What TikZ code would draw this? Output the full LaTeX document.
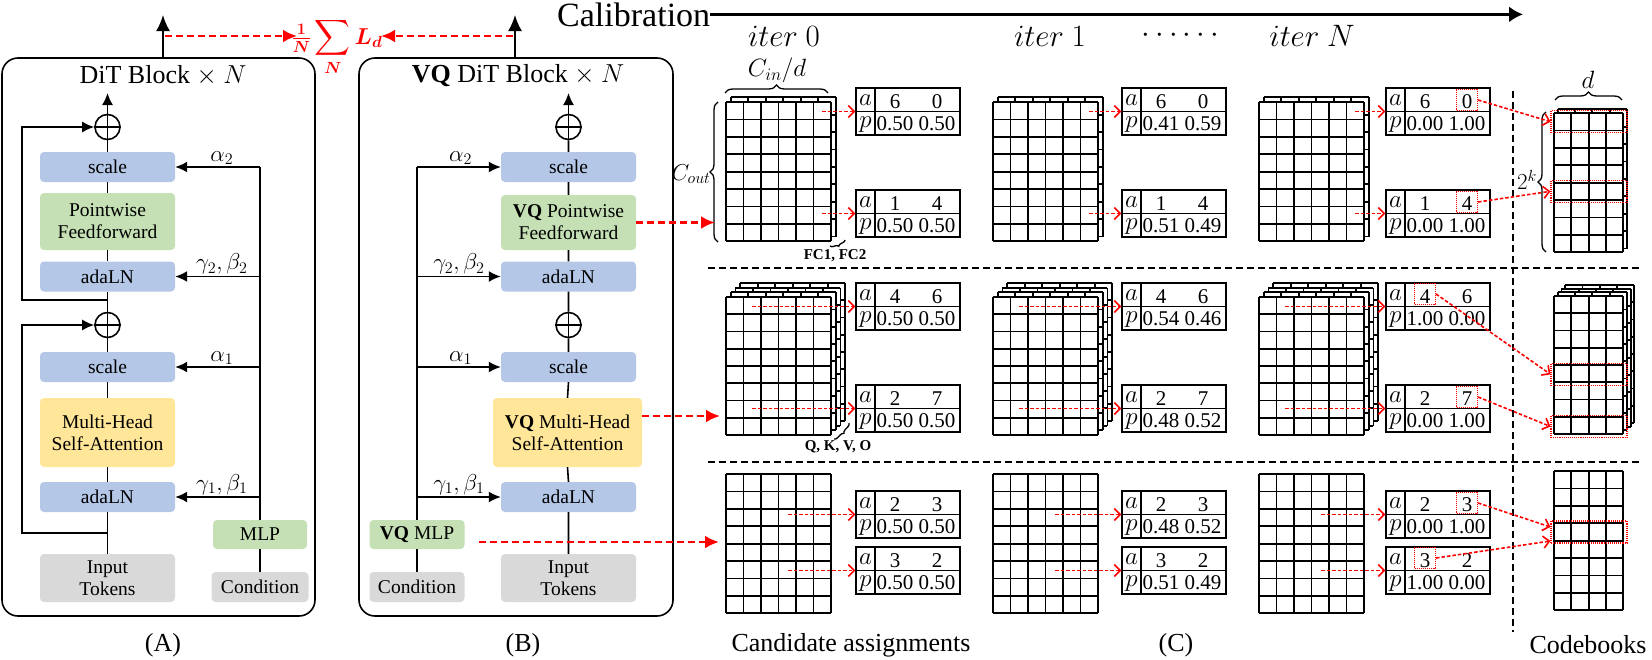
\documentclass[tikz,border=0pt]{standalone}
\usepackage{fix-cm}
\usepackage{amsmath}
\usepackage{fontspec}
\setmainfont{Liberation Serif}
\usetikzlibrary{arrows.meta,decorations.pathreplacing,calc}
\definecolor{cblue}{RGB}{180,199,231}
\definecolor{cgreen}{RGB}{197,224,180}
\definecolor{cyellow}{RGB}{255,230,153}
\definecolor{cgrey}{RGB}{217,217,217}
\definecolor{cred}{RGB}{255,0,0}
\newcommand{\myfs}[2]{\fontsize{#1}{#2}\selectfont}
\newcommand{\lossformula}{$\boldsymbol{\tfrac{1}{N}}\displaystyle\sum_{\boldsymbol{N}}\boldsymbol{L_d}$}
\newcommand{\cellgrid}[6]{%
  \fill[white] (#1,#2) rectangle ++(#3*#5,#4*#6);
  \foreach \ii in {0,...,#3}{\draw[gline] (#1+\ii*#5,#2) -- ++(0,#4*#6);}
  \foreach \jj in {0,...,#4}{\draw[gline] (#1,#2+\jj*#6) -- ++(#3*#5,0);}
}
\newcommand{\ptab}[7]{%
  \node[tbl] (#1) at (#2+52,#3+23.5) {};
  \draw[tline] (#2,#3+23.5) -- ++(104,0);
  \draw[tline] (#2+19,#3) -- ++(0,47);
  \node[tlab] at (#2+9.5,#3+17) {$a$};
  \node[tlab] at (#2+9.5,#3+39.5) {$p$};
  \node[tval] at (#2+39,#3+20) {#4};
  \node[tval] at (#2+81,#3+20) {#5};
  \node[tval] at (#2+39,#3+42.5) {#6};
  \node[tval] at (#2+81,#3+42.5) {#7};
}
\tikzset{
  gline/.style={line width=1.8pt},
  tline/.style={line width=1.2pt},
  tbl/.style={draw, line width=1.2pt, minimum width=104pt, minimum height=47pt, inner sep=0pt},
  tlab/.style={anchor=base, inner sep=0pt, font=\myfs{25}{27}},
  tval/.style={anchor=base, inner sep=0pt, font=\myfs{21}{23}},
  blk/.style={rounded corners=4pt, minimum width=135pt, minimum height=30pt, align=center, inner sep=1pt, font=\myfs{19.5}{22}},
  bbox/.style={blk, fill=cblue},
  gbox/.style={blk, fill=cgreen},
  ybox/.style={blk, fill=cyellow},
  kbox/.style={blk, fill=cgrey},
  frame/.style={draw, line width=1.6pt, rounded corners=16pt, inner sep=0pt},
  ln/.style={line width=1.6pt},
  arr/.style={line width=1.6pt, -{Latex[length=12pt,width=11pt]}},
  outarr/.style={line width=2pt, -{Latex[length=16pt,width=14pt]}},
  calarr/.style={line width=2.4pt, -{Latex[length=14pt,width=16pt]}},
  plusc/.style={circle, draw, line width=1.6pt, minimum size=25pt, inner sep=0pt},
  lbl/.style={font=\myfs{23}{25}, inner sep=1.5pt, above},
  losstxt/.style={anchor=base, text=cred, font=\myfs{23}{25}, inner sep=0pt},
  bigred/.style={cred, line width=2.7pt, dash pattern=on 7pt off 4pt, -{Latex[length=14pt,width=13pt]}},
  sred/.style={cred, line width=1.6pt, dash pattern=on 3.5pt off 2pt, -{Straight Barb[length=6pt,width=12pt]}},
  dbox/.style={draw=cred, line width=1.1pt, densely dotted, minimum width=21pt, minimum height=21pt, inner sep=0pt},
  rowbox/.style={draw=cred, line width=1.1pt, densely dotted, minimum width=76pt, minimum height=22pt, inner sep=0pt},
  sepline/.style={line width=2.8pt, dash pattern=on 7pt off 4pt},
  brc/.style={decorate, decoration={brace, amplitude=8pt}, line width=1.3pt},
  sbrc/.style={decorate, decoration={brace, amplitude=3.5pt}, line width=1.3pt},
  bigtxt/.style={font=\myfs{26}{28}, inner sep=0pt},
}
\begin{document}
\begin{tikzpicture}[x=1pt,y=-1pt]
\useasboundingbox (0,0) rectangle (1652,659);

% ---------------- Panel A ----------------
\node[frame, minimum width=313pt, minimum height=558pt] (frA) at (158.5,337) {};
\node[bigtxt] (ttA) at (163,76) {DiT Block $\times$ $N$};
\coordinate (outA) at (163,15);
\draw[outarr] (outA |- frA.north) -- (outA);

\node[bbox] (scA2) at (107.5,167) {scale};
\node[gbox, minimum height=57pt] (pfA) at (107.5,221.5) {Pointwise\\Feedforward};
\node[bbox] (adA2) at (107.5,276.5) {adaLN};
\node[plusc] (plA2) at (107.5,127) {};
\node[plusc] (plA1) at (107.5,325) {};
\node[bbox] (scA1) at (107.5,367) {scale};
\node[ybox, minimum height=69pt] (mhA) at (107.5,432.5) {Multi-Head\\Self-Attention};
\node[bbox] (adA1) at (107.5,497) {adaLN};
\node[kbox, minimum height=48pt] (inA) at (107.5,578) {Input\\Tokens};
\node[gbox, minimum width=94pt, minimum height=29pt] (mlA) at (260,534.5) {MLP};
\node[kbox, minimum width=97pt] (cdA) at (260,587) {Condition};

\draw[ln] (inA.north) -- (adA1.south) (adA1.north) -- (mhA.south) (mhA.north) -- (scA1.south) (scA1.north) -- (plA1.south) (plA1.north) -- (adA2.south) (adA2.north) -- (pfA.south) (pfA.north) -- (scA2.south) (scA2.north) -- (plA2.south);
\coordinate (topA) at (107.5,93);
\draw[arr] (plA2.north) -- (topA);
\draw[ln] (plA1.north) -- (plA1.south) (plA1.west) -- (plA1.east);
\draw[ln] (plA2.north) -- (plA2.south) (plA2.west) -- (plA2.east);
\coordinate (lA) at (22,0);
\coordinate (skA1) at (107.5,533);
\coordinate (skA2) at (107.5,300);
\draw[arr] (skA1) -- (skA1 -| lA) |- (plA1.west);
\draw[arr] (skA2) -- (skA2 -| lA) |- (plA2.west);
\draw[ln] (cdA.north) -- (mlA.south);
\draw[ln] (mlA.north) -- (mlA.north |- scA2.east);
\draw[arr] (mlA.north |- scA2.east) -- (scA2.east) node[lbl, pos=0.45] {$\alpha_2$};
\draw[arr] (mlA.north |- adA2.east) -- (adA2.east) node[lbl, pos=0.45] {$\gamma_2,\beta_2$};
\draw[arr] (mlA.north |- scA1.east) -- (scA1.east) node[lbl, pos=0.45] {$\alpha_1$};
\draw[arr] (mlA.north |- adA1.east) -- (adA1.east) node[lbl, pos=0.45] {$\gamma_1,\beta_1$};

% ---------------- Loss ----------------
\node[losstxt] (loss) at (337,44) {\lossformula};
\coordinate (ra) at (165,36);
\coordinate (lossL) at (297,36);
\coordinate (rb) at (513,36);
\coordinate (lossR) at (381,36);
\draw[bigred] (ra) -- (lossL);
\draw[bigred] (rb) -- (lossR);

% ---------------- Panel B ----------------
\node[frame, minimum width=314pt, minimum height=558pt] (frB) at (516,337) {};
\node[bigtxt] (ttB) at (518,76) {\textbf{VQ} DiT Block $\times$ $N$};
\coordinate (outB) at (515,15);
\draw[outarr] (outB |- frB.north) -- (outB);

\node[bbox] (scB2) at (568.5,167) {scale};
\node[gbox, minimum height=55pt] (pfB) at (568.5,222.5) {\textbf{VQ} Pointwise\\Feedforward};
\node[bbox] (adB2) at (568.5,276.5) {adaLN};
\node[plusc] (plB2) at (568.5,127) {};
\node[plusc] (plB1) at (568.5,325) {};
\node[bbox] (scB1) at (568.5,367) {scale};
\node[ybox, minimum width=149pt, minimum height=69pt] (mhB) at (567.5,432.5) {\textbf{VQ} Multi-Head\\Self-Attention};
\node[bbox] (adB1) at (568.5,497) {adaLN};
\node[kbox, minimum height=48pt] (inB) at (568.5,578) {Input\\Tokens};
\node[gbox, minimum width=95pt, minimum height=29pt] (mlB) at (417,534.5) {\textbf{VQ} MLP};
\node[kbox, minimum width=95pt] (cdB) at (417,587) {Condition};

\draw[ln] (inB.north) -- (adB1.south) (adB1.north) -- (mhB.south) (mhB.north) -- (scB1.south) (scB1.north) -- (plB1.south) (plB1.north) -- (adB2.south) (adB2.north) -- (pfB.south) (pfB.north) -- (scB2.south) (scB2.north) -- (plB2.south);
\coordinate (topB) at (568.5,93);
\draw[arr] (plB2.north) -- (topB);
\draw[ln] (plB1.north) -- (plB1.south) (plB1.west) -- (plB1.east);
\draw[ln] (plB2.north) -- (plB2.south) (plB2.west) -- (plB2.east);
\draw[ln] (cdB.north) -- (mlB.south);
\draw[ln] (mlB.north) -- (mlB.north |- scB2.west);
\draw[arr] (mlB.north |- scB2.west) -- (scB2.west) node[lbl, pos=0.52] {$\alpha_2$};
\draw[arr] (mlB.north |- adB2.west) -- (adB2.west) node[lbl, pos=0.5] {$\gamma_2,\beta_2$};
\draw[arr] (mlB.north |- scB1.west) -- (scB1.west) node[lbl, pos=0.52] {$\alpha_1$};
\draw[arr] (mlB.north |- adB1.west) -- (adB1.west) node[lbl, pos=0.5] {$\gamma_1,\beta_1$};

% ---------------- Calibration ----------------
\node[anchor=base west, inner sep=0pt, font=\myfs{34}{36}] (calib) at (557,26) {Calibration};
\coordinate (calX) at (1523,0);
\draw[calarr] (calib.east) -- (calib.east -| calX);
\node[font=\myfs{31}{33}] (it0) at (784,36) {$iter\ 0$};
\node[font=\myfs{31}{33}] (it1) at (1050,36) {$iter\ 1$};
\node[font=\myfs{31}{33}] (itd) at (1183,36) {$\cdots\cdots$};
\node[font=\myfs{31}{33}] (itN) at (1312,36) {$iter\ N$};

% ---------------- weight grids ----------------
\foreach \G in {726,993,1259}{
  \cellgrid{\G+4.7}{97.3}{6}{8}{17.5}{17.4}
  \cellgrid{\G}{102}{6}{8}{17.5}{17.4}
  \cellgrid{\G+14.1}{282.9}{6}{8}{17.5}{17.25}
  \cellgrid{\G+9.4}{287.6}{6}{8}{17.5}{17.25}
  \cellgrid{\G+4.7}{292.3}{6}{8}{17.5}{17.25}
  \cellgrid{\G}{297}{6}{8}{17.5}{17.25}
  \cellgrid{\G}{474}{6}{8}{17.5}{17.4}
}
% labels on iter 0 grids
\draw[brc] (725,93) -- (828,93);
\node[font=\myfs{25}{27}] (cin) at (777,70) {$C_{in}/d$};
\draw[brc] (718,242) -- (718,102);
\node[font=\myfs{23}{25}] (cout) at (691,174) {$C_{out}$};
\draw[sbrc] (845,240) -- (830,246);
\node[font=\bfseries\myfs{15}{16}] (fc) at (835,256) {FC1, FC2};
\draw[sbrc] (849,423) -- (834,439);
\node[font=\bfseries\myfs{15}{16}] (qkvo) at (838,447) {Q, K, V, O};

% ---------------- tables ----------------
\ptab{t01}{856}{88}{6}{0}{0.50}{0.50}
\ptab{t02}{856}{190}{1}{4}{0.50}{0.50}
\ptab{t03}{856}{283}{4}{6}{0.50}{0.50}
\ptab{t04}{856}{385}{2}{7}{0.50}{0.50}
\ptab{t05}{856}{491}{2}{3}{0.50}{0.50}
\ptab{t06}{856}{547}{3}{2}{0.50}{0.50}
\ptab{t11}{1122}{88}{6}{0}{0.41}{0.59}
\ptab{t12}{1122}{190}{1}{4}{0.51}{0.49}
\ptab{t13}{1122}{283}{4}{6}{0.54}{0.46}
\ptab{t14}{1122}{385}{2}{7}{0.48}{0.52}
\ptab{t15}{1122}{491}{2}{3}{0.48}{0.52}
\ptab{t16}{1122}{547}{3}{2}{0.51}{0.49}
\ptab{t21}{1386}{88}{6}{0}{0.00}{1.00}
\ptab{t22}{1386}{190}{1}{4}{0.00}{1.00}
\ptab{t23}{1386}{283}{4}{6}{1.00}{0.00}
\ptab{t24}{1386}{385}{2}{7}{0.00}{1.00}
\ptab{t25}{1386}{491}{2}{3}{0.00}{1.00}
\ptab{t26}{1386}{547}{3}{2}{1.00}{0.00}

\foreach \G/\c in {726/0,993/1,1259/2}{
  \coordinate (s\c1) at (\G+96,111.5);
  \coordinate (s\c2) at (\G+96,213.5);
  \coordinate (s\c3) at (\G+26,306.5);
  \coordinate (s\c4) at (\G+26,408.5);
  \coordinate (s\c5) at (\G+62,514.5);
  \coordinate (s\c6) at (\G+62,570.5);
  \foreach \k in {1,...,6}{\draw[sred] (s\c\k) -- (t\c\k.west);}
}

% ---------------- big red arrows from B ----------------
\coordinate (e1) at (715,222.5);
\coordinate (e2) at (720,416);
\coordinate (e3) at (719,542);
\draw[bigred] (pfB.east) -- (e1);
\draw[bigred] ([yshift=16.5pt]mhB.east) -- (e2);
\draw[bigred] ([xshift=14pt,yshift=-7.5pt]mlB.east) -- (e3);

% ---------------- separators ----------------
\draw[sepline] (708,268) -- (1640,268);
\draw[sepline] (708,462) -- (1640,462);
\draw[sepline] (1513,91) -- (1513,632);

% ---------------- codebooks ----------------
\cellgrid{1557.7}{109.3}{4}{8}{17.3}{17.4}
\cellgrid{1554}{113}{4}{8}{17.3}{17.4}
\cellgrid{1565.1}{285}{4}{8}{17.3}{17.25}
\cellgrid{1561.4}{288.6}{4}{8}{17.3}{17.25}
\cellgrid{1557.7}{292.3}{4}{8}{17.3}{17.25}
\cellgrid{1554}{296}{4}{8}{17.3}{17.25}
\cellgrid{1554}{471}{4}{8}{17.3}{17.4}
\draw[brc] (1555,100) -- (1622,100);
\node[font=\myfs{25}{27}] (dl) at (1588,80) {$d$};
\draw[brc] (1546,252) -- (1546,112);
\node[font=\myfs{23}{25}] (kl) at (1527,180) {$2^k$};

\node[rowbox] (r1) at (1589,121.7) {};
\node[rowbox] (r2) at (1589,191.3) {};
\node[rowbox] (r3) at (1589,374.3) {};
\node[rowbox] (r4) at (1589,426.5) {};
\node[rowbox] (r5) at (1589,532) {};
\node[dbox] (b1) at (1467,100) {};
\node[dbox] (b2) at (1467,202) {};
\node[dbox] (b3) at (1425,294) {};
\node[dbox] (b4) at (1467,397) {};
\node[dbox] (b5) at (1467,503) {};
\node[dbox] (b6) at (1425,558) {};
\draw[sred] (b1.east) -- (r1.west);
\draw[sred] (b2.east) -- (r2.west);
\draw[sred] (b3.east) -- (r3.west);
\draw[sred] (b4.east) -- (r4.west);
\draw[sred] (b5.east) -- ([yshift=5pt]r5.west);
\draw[sred] (b6.east) -- ([yshift=-9pt]r5.west);

% ---------------- captions ----------------
\node[bigtxt] (capA) at (163,645) {(A)};
\node[bigtxt] (capB) at (523,645) {(B)};
\node[bigtxt] (capCa) at (851,645) {Candidate assignments};
\node[bigtxt] (capC) at (1176,645) {(C)};
\node[bigtxt] (capCb) at (1588,645) {Codebooks};
\end{tikzpicture}
\end{document}
